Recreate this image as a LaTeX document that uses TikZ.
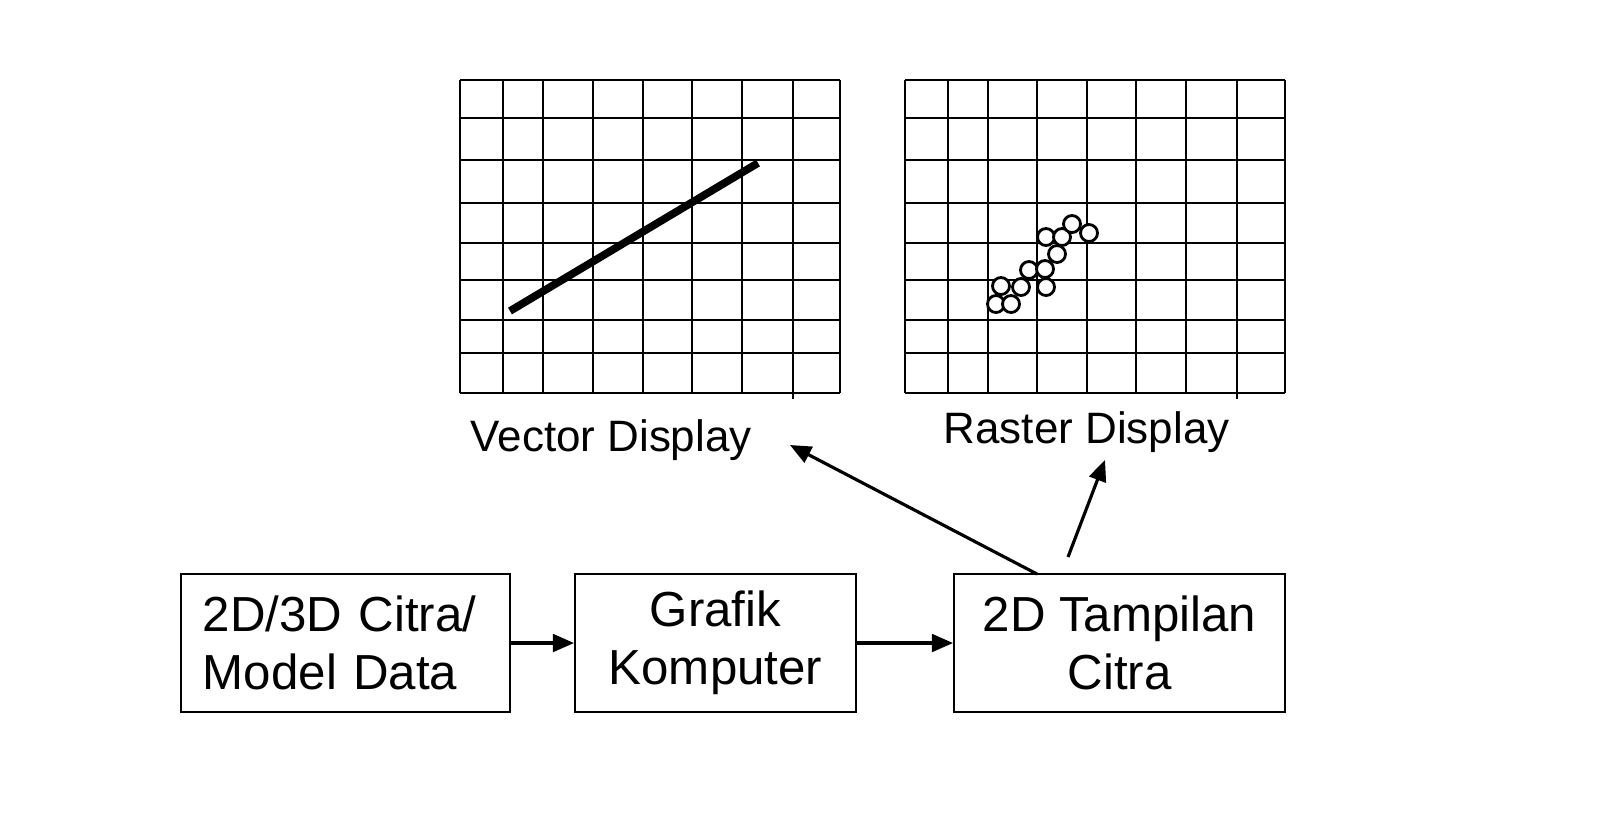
\documentclass[tikz,border=0pt]{standalone}
\usepackage{fontspec}
\setmainfont{Liberation Sans}
\usetikzlibrary{arrows.meta}
\begin{document}
\begin{tikzpicture}[x=0.01cm,y=-0.01cm,
  box/.style={draw,line width=0.5pt,minimum height=138*0.2845pt,inner ysep=0pt,font=\fontsize{14}{16.5}\selectfont},
  lbl/.style={font=\fontsize{12.5}{14}\selectfont,inner sep=0pt},
  arr/.style={line width=0.9pt,-{Triangle[length=6pt,width=5pt]}},
  grid/.style={line width=0.65pt}]
\useasboundingbox (0,0) rectangle (1600,826);
% boxes
\node[box,anchor=west,minimum width=329*0.2845pt,inner xsep=22*0.2845pt,align=left,text width=285*0.2845pt] (a) at (180,643) {2D/3D Citra/\\Model Data};
\node[box,minimum width=281*0.2845pt,inner xsep=0pt,align=center] (b) at (715.5,643) {Grafik\\Komputer};
\node[box,minimum width=331*0.2845pt,inner xsep=0pt,align=center] (c) at (1119.5,643) {2D Tampilan\\Citra};
% grids
\foreach \x in {460,503,543,593,643,692,742,793,840} \draw[grid] (\x,80) -- (\x,393);
\draw[grid] (793,393) -- (793,399);
\foreach \y in {80,118,160,203,243,280,320,353,393} \draw[grid] (460,\y) -- (840,\y);
\foreach \x in {905,948,988,1037,1087,1136,1186,1237,1285} \draw[grid] (\x,80) -- (\x,393);
\draw[grid] (1237,393) -- (1237,399);
\foreach \y in {80,118,160,203,243,280,320,353,393} \draw[grid] (905,\y) -- (1285,\y);
\draw[line width=2.2pt] (510,311) -- (758,163);
\foreach \p in {(1001,286),(1021,287),(996,304),(1011,304),(1029,270),(1045,269),(1046,287),(1046,237),(1062,237),(1057,254),(1072,224),(1089,233)}
  \draw[line width=0.8pt,fill=white] \p circle[radius=8.5];
% labels
\node[lbl,anchor=west] (vd) at (470,440) {Vector Display};
\node[lbl,anchor=west] (rd) at (943,432) {Raster Display};
\coordinate (vt) at (790,445);
\coordinate (rt) at (1105,460);
\coordinate (s1) at (1037,574);
\coordinate (s2) at (1068,557);
% arrows
\draw[arr] (a.east) -- (b.west);
\draw[arr] (b.east) -- (c.west);
\draw[arr] (s1) -- (vt);
\draw[arr] (s2) -- (rt);
\end{tikzpicture}
\end{document}
